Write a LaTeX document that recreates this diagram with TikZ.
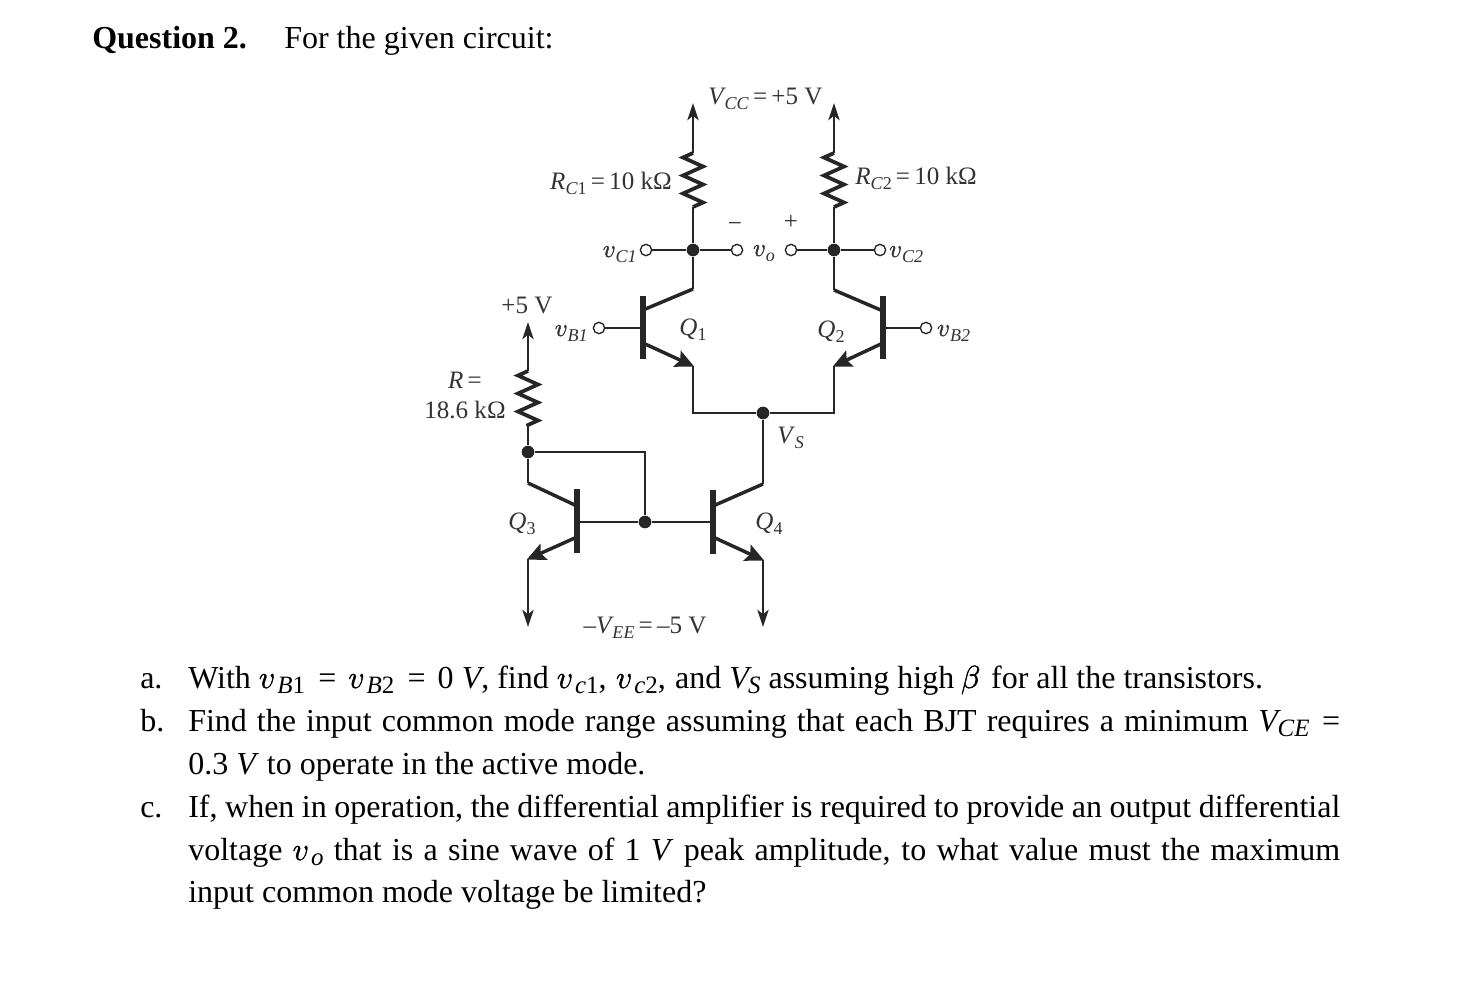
\documentclass[tikz,border=0pt]{standalone}
\usepackage{fix-cm}
\usepackage{amsmath}
\usepackage{graphicx}
\usepackage{fontspec}
\setmainfont{Liberation Serif}
\usetikzlibrary{arrows.meta, decorations.pathmorphing}

\newcommand{\fillline}[1]{\makebox[864pt][s]{#1}}
\newcommand{\sbs}[1]{\raisebox{-0.22em}{\scalebox{0.72}{#1}}}
\newcommand{\qbs}[1]{\raisebox{-0.17em}{\scalebox{0.78}{#1}}}
\newcommand{\heavy}[1]{\special{pdf:code 2 Tr 0.3 w}#1\special{pdf:code 0 Tr 1 w}}
\newcommand{\cv}[1]{\heavy{$v$}\sbs{\textit{#1}}}
\newcommand{\qv}[1]{\heavy{$v$}\kern1.5pt\qbs{\textit{#1}}}
\newcommand{\qeq}{\kern10pt=\kern9pt}
\definecolor{wirecol}{rgb}{0.15,0.15,0.15}
\definecolor{labcol}{rgb}{0.2,0.2,0.2}

\tikzset{
	wire/.style={draw=wirecol, line width=1.2pt},
	feed/.style={wire, -{Stealth[length=13pt, width=8.5pt, inset=3.5pt]}},
	lead/.style={draw=wirecol, line width=2.6pt},
	emitter/.style={lead, -{Stealth[length=14pt, width=13pt, inset=2.5pt]}, shorten >=-1pt},
	bar/.style={draw=wirecol, line width=4.2pt},
	resistor/.style={draw=wirecol, line width=2.8pt, decorate, decoration={zigzag, mirror, segment length=13.5pt, amplitude=7.5pt}},
	dot/.style={circle, fill=wirecol, inner sep=0pt, minimum size=9.5pt},
	terminal/.style={circle, draw=wirecol, fill=white, line width=1pt, inner sep=0pt, minimum size=8.5pt},
	lab/.style={text=labcol, inner sep=0pt, font=\fontsize{18.8}{22}\selectfont},
	qline/.style={anchor=base west, inner sep=0pt, font=\fontsize{24}{28}\selectfont},
}

\begin{document}
\begin{tikzpicture}[x=0.75pt,y=0.75pt,yscale=-1,xscale=1]
	\path[use as bounding box] (0,0) rectangle (1482,990);

	% Heading
	\node[qline] (head) at (92,48) {\textbf{Question 2.}};
	\node[qline] (headtext) at (284,48) {For the given circuit:};

	% Junctions and terminals
	\node[dot] (j1) at (693,250) {};
	\node[dot] (j2) at (834,250) {};
	\node[dot] (js) at (763,413) {};
	\node[dot] (jr) at (528,452) {};
	\node[dot] (jb) at (645,522) {};
	\node[terminal] (tc1) at (646,250) {};
	\node[terminal] (tol) at (737,250) {};
	\node[terminal] (tor) at (791,250) {};
	\node[terminal] (tc2) at (880,250) {};
	\node[terminal] (tb1) at (599,328) {};
	\node[terminal] (tb2) at (926,328) {};

	% Supply ends
	\coordinate (vcc1) at (693,103);
	\coordinate (vcc2) at (834,103);
	\coordinate (vp) at (528,322);
	\coordinate (vee3) at (528,627);
	\coordinate (vee4) at (763,627);

	% Resistors
	\coordinate (rc1t) at (693,153);
	\coordinate (rc1b) at (693,207);
	\coordinate (rc2t) at (834,153);
	\coordinate (rc2b) at (834,207);
	\coordinate (rt) at (528,371);
	\coordinate (rb) at (528,426);

	% Q1
	\coordinate (q1a) at (643,296);
	\coordinate (q1z) at (643,359);
	\coordinate (q1b) at (643,328);
	\coordinate (q1c) at (643,310);
	\coordinate (q1e) at (643,343);
	\coordinate (q1cw) at (693,289);
	\coordinate (q1ew) at (693,366);
	% Q2
	\coordinate (q2a) at (883,296);
	\coordinate (q2z) at (883,359);
	\coordinate (q2b) at (883,328);
	\coordinate (q2c) at (883,311);
	\coordinate (q2e) at (883,343);
	\coordinate (q2cw) at (834,290);
	\coordinate (q2ew) at (834,366);
	% Q3
	\coordinate (q3a) at (577,489);
	\coordinate (q3z) at (577,553);
	\coordinate (q3b) at (577,522);
	\coordinate (q3c) at (577,506);
	\coordinate (q3e) at (577,537);
	\coordinate (q3cw) at (528,483);
	\coordinate (q3ew) at (528,559);
	% Q4
	\coordinate (q4a) at (713,490);
	\coordinate (q4z) at (713,554);
	\coordinate (q4b) at (713,522);
	\coordinate (q4c) at (713,506);
	\coordinate (q4e) at (713,537);
	\coordinate (q4cw) at (763,484);
	\coordinate (q4ew) at (763,560);

	% Wires
	\draw[feed] (rc1t) -- (vcc1);
	\draw[feed] (rc2t) -- (vcc2);
	\draw[feed] (rt) -- (vp);
	\draw[wire] (rc1b) -- (j1) -- (q1cw);
	\draw[wire] (rc2b) -- (j2) -- (q2cw);
	\draw[wire] (tc1) -- (j1) -- (tol);
	\draw[wire] (tor) -- (j2) -- (tc2);
	\draw[wire] (tb1) -- (q1b);
	\draw[wire] (q2b) -- (tb2);
	\draw[wire] (q1ew) |- (js) -| (q2ew);
	\draw[wire] (js) -- (q4cw);
	\draw[wire] (rb) -- (jr) -- (q3cw);
	\draw[wire] (jr) -| (jb);
	\draw[wire] (q3b) -- (jb) -- (q4b);
	\draw[feed] (q3ew) -- (vee3);
	\draw[feed] (q4ew) -- (vee4);

	% Zigzags
	\draw[resistor] (rc1t) -- (rc1b);
	\draw[resistor] (rc2t) -- (rc2b);
	\draw[resistor] (rt) -- (rb);

	% Transistors
	\draw[bar] (q1a) -- (q1z);
	\draw[lead] (q1c) -- (q1cw);
	\draw[emitter] (q1e) -- (q1ew);
	\draw[bar] (q2a) -- (q2z);
	\draw[lead] (q2c) -- (q2cw);
	\draw[emitter] (q2e) -- (q2ew);
	\draw[bar] (q3a) -- (q3z);
	\draw[lead] (q3c) -- (q3cw);
	\draw[emitter] (q3e) -- (q3ew);
	\draw[bar] (q4a) -- (q4z);
	\draw[lead] (q4c) -- (q4cw);
	\draw[emitter] (q4e) -- (q4ew);

	% Circuit labels
	\node[lab, anchor=base west] (lvcc) at (708,104) {\textit{V}\kern-1pt\sbs{\textit{CC}}\,=\,+5 V};
	\node[lab, anchor=base east] (lrc1) at (672,189) {\textit{R}\sbs{\textit{C}1}\,=\,10 kΩ};
	\node[lab, anchor=base west] (lrc2) at (855,184) {\textit{R}\sbs{\textit{C}2}\,=\,10 kΩ};
	\node[lab] (lminus) at (735,227) {\textminus};
	\node[lab] (lplus) at (791,222) {+};
	\node[lab, anchor=base east] (lvc1) at (637,257) {\cv{C1}};
	\node[lab, anchor=base] (lvo) at (764,256) {\cv{o}};
	\node[lab, anchor=base west] (lvc2) at (889,257) {\cv{C2}};
	\node[lab, anchor=base] (lp5) at (527,313) {+5 V};
	\node[lab, anchor=base east] (lvb1) at (588,336) {\cv{B1}};
	\node[lab, anchor=base west] (lvb2) at (937,336) {\cv{B2}};
	\node[lab, anchor=base] (lq1) at (693,335) {\textit{Q}\sbs{1}};
	\node[lab, anchor=base] (lq2) at (831,337) {\textit{Q}\sbs{2}};
	\node[lab, anchor=base] (lq3) at (522,529) {\textit{Q}\sbs{3}};
	\node[lab, anchor=base] (lq4) at (769,529) {\textit{Q}\sbs{4}};
	\node[lab, anchor=base] (lr) at (465,388) {\textit{R}\,=};
	\node[lab, anchor=base] (lrv) at (465,418) {18.6 kΩ};
	\node[lab, anchor=base west] (lvs) at (777,443) {\textit{V}\sbs{\textit{S}}};
	\node[lab, anchor=base] (lvee) at (645,633) {\textendash\textit{V}\kern-1pt\sbs{\textit{EE}}\,=\,\textendash5 V};

	% Questions
	\node[qline] (ma) at (140,688) {a.};
	\node[qline] (la) at (188,688) {With \qv{B}\qbs{1}\qeq\qv{B}\qbs{2}\qeq 0 \textit{V}, find \qv{c}\qbs{1},\kern1pt{} \qv{c}\qbs{2},\kern1pt{} and \textit{V}\kern-3pt\qbs{\textit{S}} assuming high\kern-1pt{} \heavy{$\beta$}\kern2pt{} for all the transistors.};
	\node[qline] (mb) at (140,731) {b.};
	\node[qline] (lb) at (188,731) {\fillline{Find the input common mode range assuming that each BJT requires a minimum \textit{V}\kern-2.5pt\qbs{\textit{CE}}\kern9.5pt=}};
	\node[qline] (lb2) at (188,774) {0.3 \textit{V} to operate in the active mode.};
	\node[qline] (mc) at (140,817) {c.};
	\node[qline] (lc) at (188,817) {\fillline{If, when in operation, the differential amplifier is required to provide an output differential}};
	\node[qline] (lc2) at (188,860) {\fillline{voltage \qv{o} that is a sine wave of 1 \textit{V} peak amplitude, to what value must the maximum}};
	\node[qline] (lc3) at (188,902) {input common mode voltage be limited?};
\end{tikzpicture}
\end{document}
